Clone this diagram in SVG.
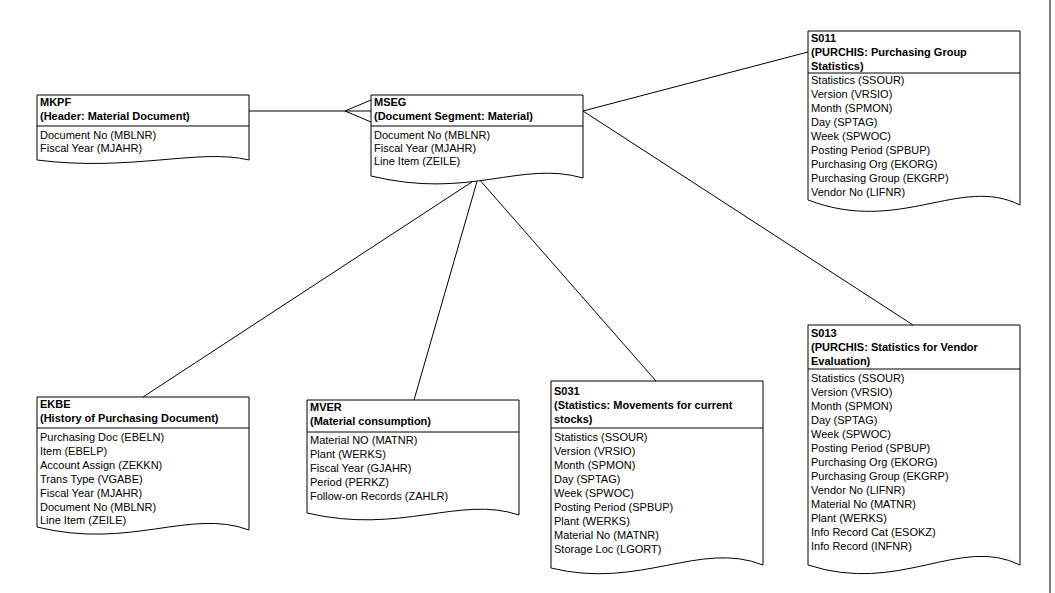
<svg xmlns="http://www.w3.org/2000/svg" width="1055" height="593" viewBox="0 0 1055 593">
<style>
.b{fill:#fff;stroke:#000;stroke-width:1}
.l{stroke:#000;stroke-width:1;fill:none}
text{font-family:"Liberation Sans",Arial,sans-serif;font-size:11px;fill:#000}
.h{font-weight:bold}
</style>
<rect width="1055" height="593" fill="#fff"/>
<line class="l" x1="1050" y1="0" x2="1050" y2="593"/>
<g id="connectors">
<line class="l" x1="249" y1="111" x2="371" y2="111"/>
<polyline class="l" points="371,100 345,111 371,122"/>
<line class="l" x1="583" y1="111" x2="808" y2="52"/>
<line class="l" x1="583" y1="111" x2="913" y2="325"/>
<line class="l" x1="478" y1="178" x2="143" y2="397"/>
<line class="l" x1="478" y1="178" x2="414" y2="400"/>
<line class="l" x1="478" y1="178" x2="656" y2="381"/>
</g>
<g id="MKPF">
<path class="b" d="M37,95 H249 V160 C200,148 130,172 37,160 Z"/>
<line class="l" x1="37" y1="126" x2="249" y2="126"/>
<text x="40" y="106" class="h">MKPF</text><text x="40" y="120" class="h">(Header: Material Document)</text>
<text x="40" y="139">Document No (MBLNR)</text><text x="40" y="152">Fiscal Year (MJAHR)</text>
</g>
<g id="MSEG">
<path class="b" d="M371,95 H583 V178 C520,160 470,200 371,176 Z"/>
<line class="l" x1="371" y1="126" x2="583" y2="126"/>
<text x="374" y="106" class="h">MSEG</text><text x="374" y="120" class="h">(Document Segment: Material)</text>
<text x="374" y="139">Document No (MBLNR)</text><text x="374" y="152">Fiscal Year (MJAHR)</text><text x="374" y="165">Line Item (ZEILE)</text>
</g>
<g id="S011">
<path class="b" d="M808,31 H1020 V205 C960,175 900,235 808,200 Z"/>
<line class="l" x1="808" y1="73" x2="1020" y2="73"/>
<text x="811" y="42" class="h">S011</text><text x="811" y="56" class="h">(PURCHIS: Purchasing Group</text><text x="811" y="70" class="h">Statistics)</text>
<text x="811" y="84">Statistics (SSOUR)</text><text x="811" y="98">Version (VRSIO)</text><text x="811" y="112">Month (SPMON)</text><text x="811" y="126">Day (SPTAG)</text><text x="811" y="140">Week (SPWOC)</text><text x="811" y="154">Posting Period (SPBUP)</text><text x="811" y="168">Purchasing Org (EKORG)</text><text x="811" y="182">Purchasing Group (EKGRP)</text><text x="811" y="196">Vendor No (LIFNR)</text>
</g>
<g id="S013">
<path class="b" d="M808,325 H1020 V565 C960,535 900,595 808,565 Z"/>
<line class="l" x1="808" y1="369" x2="1020" y2="369"/>
<text x="811" y="337" class="h">S013</text><text x="811" y="351" class="h">(PURCHIS: Statistics for Vendor</text><text x="811" y="365" class="h">Evaluation)</text>
<text x="811" y="382">Statistics (SSOUR)</text><text x="811" y="396">Version (VRSIO)</text><text x="811" y="410">Month (SPMON)</text><text x="811" y="424">Day (SPTAG)</text><text x="811" y="438">Week (SPWOC)</text><text x="811" y="452">Posting Period (SPBUP)</text><text x="811" y="466">Purchasing Org (EKORG)</text><text x="811" y="480">Purchasing Group (EKGRP)</text><text x="811" y="494">Vendor No (LIFNR)</text><text x="811" y="508">Material No (MATNR)</text><text x="811" y="522">Plant (WERKS)</text><text x="811" y="536">Info Record Cat (ESOKZ)</text><text x="811" y="550">Info Record (INFNR)</text>
</g>
<g id="S031">
<path class="b" d="M551,381 H763 V565 C700,540 640,590 551,568 Z"/>
<line class="l" x1="551" y1="428" x2="763" y2="428"/>
<text x="554" y="395" class="h">S031</text><text x="554" y="409" class="h">(Statistics: Movements for current</text><text x="554" y="423" class="h">stocks)</text>
<text x="554" y="441">Statistics (SSOUR)</text><text x="554" y="455">Version (VRSIO)</text><text x="554" y="469">Month (SPMON)</text><text x="554" y="483">Day (SPTAG)</text><text x="554" y="497">Week (SPWOC)</text><text x="554" y="511">Posting Period (SPBUP)</text><text x="554" y="525">Plant (WERKS)</text><text x="554" y="539">Material No (MATNR)</text><text x="554" y="553">Storage Loc (LGORT)</text>
</g>
<g id="MVER">
<path class="b" d="M307,400 H519 V515 C460,495 400,535 307,513 Z"/>
<line class="l" x1="307" y1="432" x2="519" y2="432"/>
<text x="310" y="411" class="h">MVER</text><text x="310" y="425" class="h">(Material consumption)</text>
<text x="310" y="444">Material NO (MATNR)</text><text x="310" y="458">Plant (WERKS)</text><text x="310" y="472">Fiscal Year (GJAHR)</text><text x="310" y="486">Period (PERKZ)</text><text x="310" y="500">Follow-on Records (ZAHLR)</text>
</g>
<g id="EKBE">
<path class="b" d="M37,397 H249 V530 C190,508 130,550 37,527 Z"/>
<line class="l" x1="37" y1="428" x2="249" y2="428"/>
<text x="40" y="408" class="h">EKBE</text><text x="40" y="422" class="h">(History of Purchasing Document)</text>
<text x="40" y="441">Purchasing Doc (EBELN)</text><text x="40" y="455">Item (EBELP)</text><text x="40" y="469">Account Assign (ZEKKN)</text><text x="40" y="483">Trans Type (VGABE)</text><text x="40" y="497">Fiscal Year (MJAHR)</text><text x="40" y="511">Document No (MBLNR)</text><text x="40" y="524">Line Item (ZEILE)</text>
</g>
</svg>
